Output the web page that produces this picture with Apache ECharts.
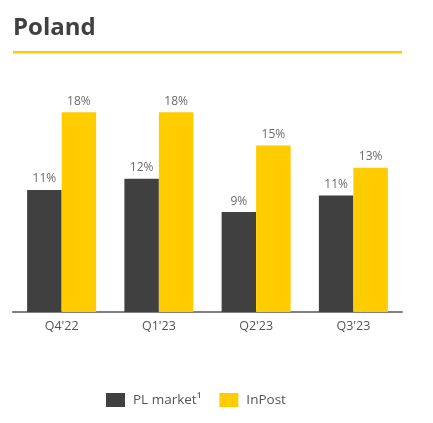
<!DOCTYPE html>
<html>
<head>
<meta charset="utf-8">
<script src="https://cdn.jsdelivr.net/npm/echarts@6/dist/echarts.min.js"></script>
<style>
html,body{margin:0;padding:0;background:#fff;}
#c{width:433px;height:423px;}
</style>
</head>
<body>
<div id="c"></div>
<script>
const categories = ["Q4'22", "Q1'23", "Q2'23", "Q3'23"];
const plMarket = [11, 12, 9, 10.5];
const inPost = [18, 18, 15, 13];
const seriesNames = ["PL market\u00B9", "InPost"];

const FONT = '"Open Sans", "Noto Sans", sans-serif';
const chart = echarts.init(document.getElementById('c'));
const labelStyle = {
  show: true,
  position: 'top',
  distance: 5,
  color: '#6b6b6b',
  fontFamily: FONT,
  fontSize: 12,
  formatter: p => Math.round(p.value) + '%'
};
chart.setOption({
  animation: false,
  title: {
    text: 'Poland',
    left: 13,
    top: 16,
    padding: 0,
    textStyle: {color: '#404040', fontSize: 24, fontWeight: 'bold', fontFamily: FONT}
  },
  graphic: [{
    type: 'rect',
    shape: {x: 13, y: 51, width: 389, height: 2.5},
    style: {fill: '#FFCC00'}
  }],
  legend: {
    bottom: 11,
    left: 101,
    itemWidth: 19,
    itemHeight: 14,
    itemGap: 18,
    icon: 'rect',
    textStyle: {color: '#555', fontSize: 13.5, fontFamily: FONT, padding: [0, 0, 0, 3]},
    data: seriesNames
  },
  grid: {left: 13, right: 31, top: 90, bottom: 111, containLabel: false},
  xAxis: {
    type: 'category',
    data: categories,
    axisLine: {lineStyle: {color: '#808080', width: 2}},
    axisTick: {show: false},
    axisLabel: {color: '#555', fontSize: 12.5, margin: 8, fontFamily: FONT}
  },
  yAxis: {
    type: 'value', min: 0, max: 20,
    show: false,
    splitLine: {show: false}
  },
  series: [
    {name: seriesNames[0], type: 'bar', data: plMarket, barWidth: 34.5, barGap: '0%',
     itemStyle: {color: '#404040'}, label: labelStyle},
    {name: seriesNames[1], type: 'bar', data: inPost, barWidth: 34.5, barGap: '0%',
     itemStyle: {color: '#FFCC00'}, label: labelStyle}
  ]
});
</script>
</body>
</html>
